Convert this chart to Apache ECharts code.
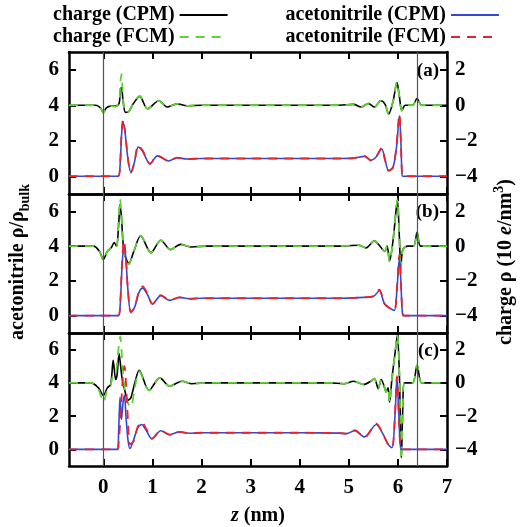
<!DOCTYPE html>
<html><head><meta charset="utf-8">
<script src="https://cdn.jsdelivr.net/npm/echarts@6/dist/echarts.min.js"></script>
<style>html,body{margin:0;padding:0;background:#fff}#c{width:520px;height:527px}</style>
</head><body><div id="c"></div>
<script>
const xTicks = [0, 1, 2, 3, 4, 5, 6, 7];
const leftTicks = [0, 2, 4, 6];
const rightTicks = [-4, -2, 0, 2];
const wallLines = [0, 6.4];
const panelLabels = ['(a)', '(b)', '(c)'];

// Panel (a)
const aAcnZ   = [-0.7, 0.30, 0.34, 0.37, 0.40, 0.44, 0.50, 0.56, 0.63, 0.71, 0.80, 0.95, 1.10, 1.22, 1.33, 1.50, 1.70, 2.00, 3.00, 4.00, 4.80, 5.10, 5.32, 5.45, 5.56, 5.67, 5.74, 5.81, 5.90, 5.97, 6.03, 6.06, 6.08, 6.10, 7.00];
const aAcnCPM = [0, 0, 0.6, 2.3, 3.1, 2.5, 1.0, 0.22, 0.75, 1.65, 1.4, 0.7, 1.15, 1.0, 0.86, 1.04, 0.97, 1.0, 1.0, 1.0, 1.0, 1.02, 1.12, 0.9, 1.1, 1.55, 0.9, 0.32, 0.5, 1.6, 3.4, 2.0, 0.3, 0, 0];
const aAcnFCM = [0, 0, 0.7, 2.4, 3.2, 2.6, 1.0, 0.2, 0.75, 1.74, 1.45, 0.7, 1.17, 1.0, 0.85, 1.05, 0.97, 1.0, 1.0, 1.0, 1.0, 1.02, 1.15, 0.88, 1.12, 1.6, 0.9, 0.3, 0.5, 1.7, 3.5, 2.0, 0.3, 0, 0];
const aChgZ   = [-0.7, -0.15, -0.06, 0.00, 0.06, 0.15, 0.25, 0.32, 0.35, 0.37, 0.40, 0.45, 0.52, 0.60, 0.74, 0.90, 1.13, 1.30, 1.50, 1.70, 2.00, 4.80, 5.10, 5.25, 5.40, 5.52, 5.65, 5.74, 5.81, 5.90, 5.98, 6.03, 6.08, 6.15, 6.30, 6.39, 6.48, 6.60, 7.00];
const aChgCPM = [0, 0, -0.15, -0.4, -0.15, -0.05, -0.05, 0.1, 0.9, 1.0, 0.3, -0.4, -0.35, 0.05, 0.5, -0.2, 0.25, -0.1, 0.08, -0.03, 0, 0, 0.05, -0.1, 0.1, -0.1, 0.25, 0.05, -0.5, 0.2, 1.28, 0.5, -0.3, 0, 0, 0.38, 0, 0, 0];
const aChgFCM = [0, 0, -0.15, -0.42, -0.15, -0.05, -0.08, 0.2, 1.4, 1.75, 0.4, -0.4, -0.35, 0.05, 0.53, -0.2, 0.25, -0.1, 0.08, -0.03, 0, 0, 0.05, -0.1, 0.1, -0.1, 0.25, 0.05, -0.5, 0.2, 1.3, 0.5, -0.3, 0, 0, 0.38, 0, 0, 0];

// Panel (b)
const bAcnZ   = [-0.7, 0.30, 0.34, 0.38, 0.42, 0.46, 0.50, 0.56, 0.64, 0.72, 0.80, 0.90, 1.00, 1.17, 1.35, 1.55, 1.75, 2.00, 3.00, 4.00, 4.80, 5.10, 5.30, 5.50, 5.62, 5.73, 5.85, 5.93, 5.98, 6.03, 6.06, 6.09, 6.12, 7.00];
const bAcnCPM = [0, 0, 0.5, 2.8, 4.1, 3.2, 1.5, 0.2, 0.5, 1.3, 1.58, 1.2, 0.67, 1.15, 0.88, 1.05, 0.97, 1.0, 1.0, 1.0, 1.0, 1.02, 1.05, 1.1, 1.43, 0.67, 0.4, 0.3, 1.5, 3.3, 2.0, 0.2, 0, 0];
const bAcnFCM = [0, 0, 0.6, 3.0, 4.3, 3.3, 1.5, 0.2, 0.5, 1.35, 1.68, 1.25, 0.67, 1.18, 0.88, 1.05, 0.97, 1.0, 1.0, 1.0, 1.0, 1.02, 1.05, 1.12, 1.5, 0.67, 0.4, 0.3, 1.6, 3.5, 2.0, 0.2, 0, 0];
const bChgZ   = [-0.7, -0.2, -0.08, 0.00, 0.08, 0.16, 0.22, 0.27, 0.31, 0.34, 0.37, 0.42, 0.52, 0.62, 0.76, 0.97, 1.17, 1.37, 1.57, 1.80, 2.10, 4.80, 5.20, 5.35, 5.52, 5.62, 5.73, 5.78, 5.83, 5.90, 5.96, 5.99, 6.03, 6.06, 6.10, 6.20, 6.32, 6.39, 6.46, 6.60, 7.00];
const bChgCPM = [0, 0, -0.3, -0.76, -0.3, -0.1, 0.2, 0.0, 1.2, 2.4, 1.6, -0.3, -1.0, -0.3, 0.6, -0.38, 0.34, -0.2, 0.1, -0.05, 0, 0, 0.05, -0.1, 0.3, 0.05, -0.3, 0.0, -0.86, 0.3, 2.0, 2.67, 0.5, -1.2, -0.2, 0, 0, 0.8, 0, 0, 0];
const bChgFCM = [0, 0, -0.3, -0.8, -0.3, -0.1, 0.1, 0.0, 1.5, 2.7, 1.8, -0.3, -1.05, -0.3, 0.6, -0.38, 0.34, -0.2, 0.1, -0.05, 0, 0, 0.05, -0.1, 0.3, 0.05, -0.3, 0.0, -0.9, 0.3, 2.1, 2.7, 0.5, -1.4, -0.2, 0, 0, 0.8, 0, 0, 0];

// Panel (c)
const cAcnZ   = [-0.7, 0.29, 0.31, 0.34, 0.37, 0.40, 0.43, 0.46, 0.50, 0.54, 0.62, 0.70, 0.78, 0.88, 0.99, 1.17, 1.35, 1.55, 1.75, 2.00, 3.00, 4.00, 4.80, 4.95, 5.12, 5.32, 5.56, 5.70, 5.80, 5.88, 5.94, 5.98, 6.02, 6.06, 6.10, 7.00];
const cAcnCPM = [0, 0, 1.0, 3.15, 1.8, 2.8, 3.25, 2.0, 0.6, 0.05, 0.6, 1.3, 1.5, 1.1, 0.64, 1.12, 0.88, 1.05, 0.97, 1.0, 1.0, 1.0, 0.98, 0.95, 1.12, 0.75, 1.5, 0.9, 0.3, 0.1, 2.0, 4.3, 2.0, 0, 0, 0];
const cAcnFCM = [0, 0, 0.3, 1.5, 3.0, 4.5, 5.0, 4.0, 1.8, 0.3, 0.5, 1.35, 1.65, 1.2, 0.64, 1.14, 0.88, 1.05, 0.97, 1.0, 1.0, 1.0, 0.98, 0.95, 1.15, 0.72, 1.55, 0.9, 0.3, 0.1, 2.1, 4.4, 2.0, 0, 0, 0];
const cChgZ   = [-0.7, -0.25, -0.10, 0.00, 0.08, 0.15, 0.20, 0.25, 0.28, 0.32, 0.345, 0.38, 0.44, 0.50, 0.56, 0.64, 0.73, 0.93, 1.15, 1.35, 1.60, 1.80, 2.10, 4.60, 4.90, 5.10, 5.30, 5.45, 5.52, 5.60, 5.66, 5.72, 5.76, 5.80, 5.83, 5.88, 5.95, 5.99, 6.03, 6.07, 6.10, 6.13, 6.30, 6.39, 6.48, 6.60, 7.00];
const cChgCPM = [0, 0, -0.3, -0.75, -0.3, -0.1, 1.36, 0.2, 0.5, 1.76, 1.2, 0.3, -0.5, -1.05, -0.9, 0.0, 0.76, -0.45, 0.3, -0.2, 0.1, -0.05, 0, 0, -0.05, 0.1, -0.1, 0.1, 0.26, -0.35, 0.2, -0.2, -0.54, -0.3, -1.15, 0.3, 2.0, 2.87, 0.5, -4.5, -1.5, 0, 0, 1.06, 0, 0, 0];
const cChgFCM = [0, 0, -0.4, -1.15, -0.4, -0.1, 0.5, 0.6, 1.2, 2.4, 2.8, 1.5, -0.5, -1.2, -1.45, -0.3, 0.7, -0.45, 0.3, -0.2, 0.1, -0.05, 0, 0, -0.05, 0.1, -0.1, 0.1, 0.26, -0.35, 0.2, -0.2, -0.54, -0.3, -1.2, 0.3, 2.0, 2.9, 0.5, -4.6, -1.5, 0, 0, 1.06, 0, 0, 0];

const panels = [
  {acnZ: aAcnZ, acnCPM: aAcnCPM, acnFCM: aAcnFCM, chgZ: aChgZ, chgCPM: aChgCPM, chgFCM: aChgFCM},
  {acnZ: bAcnZ, acnCPM: bAcnCPM, acnFCM: bAcnFCM, chgZ: bChgZ, chgCPM: bChgCPM, chgFCM: bChgFCM},
  {acnZ: cAcnZ, acnCPM: cAcnCPM, acnFCM: cAcnFCM, chgZ: cChgZ, chgCPM: cChgCPM, chgFCM: cChgFCM}
];

const FONT = 'Liberation Serif';
const BLACK = '#000000', GREEN = '#5fd236', BLUE = '#3548d8', RED = '#e8232b';
const gridBoxes = [{top: 52, height: 142}, {top: 194, height: 139}, {top: 333, height: 133}];
const labelStyle = {fontFamily: FONT, fontWeight: 'bold', fontSize: 21, color: '#000'};

function frameLine() { return {show: true, onZero: false, lineStyle: {color: '#000', width: 2.5}}; }
function tick(values) {
  return {show: true, inside: true, length: 7, customValues: values,
    lineStyle: {color: '#000', width: 2}};
}
function pts(z, v) { return z.map((x, i) => [x, v[i]]); }

const grid = [], xAxis = [], yAxis = [], series = [];
gridBoxes.forEach((g, i) => {
  grid.push({left: 69, right: 73, top: g.top, height: g.height, show: false});
  const last = i === 2;
  xAxis.push({type: 'value', gridIndex: i, min: -0.7, max: 7, position: 'bottom',
    axisLine: frameLine(), splitLine: {show: false}, axisTick: tick(xTicks),
    axisLabel: Object.assign({show: last, customValues: xTicks, margin: 11}, labelStyle),
    name: last ? '{i|z}{b| (nm)}' : '', nameLocation: 'middle', nameGap: 40,
    nameTextStyle: {rich: {
      i: {fontFamily: FONT, fontWeight: 'bold', fontStyle: 'italic', fontSize: 20, color: '#000'},
      b: {fontFamily: FONT, fontWeight: 'bold', fontSize: 20, color: '#000'}}}
  });
  xAxis.push({type: 'value', gridIndex: i, min: -0.7, max: 7, position: 'top',
    axisLine: frameLine(), splitLine: {show: false}, axisTick: tick(xTicks),
    axisLabel: {show: false, customValues: xTicks}});
  yAxis.push({type: 'value', gridIndex: i, min: -1, max: 7, position: 'left',
    axisLine: frameLine(), splitLine: {show: false}, axisTick: tick(leftTicks),
    axisLabel: Object.assign({customValues: leftTicks, margin: 10}, labelStyle)});
  yAxis.push({type: 'value', gridIndex: i, min: -5, max: 3, position: 'right',
    axisLine: frameLine(), splitLine: {show: false}, axisTick: tick(rightTicks),
    axisLabel: Object.assign({customValues: rightTicks, margin: 8,
      formatter: v => String(v).replace('-', '\u2212')}, labelStyle)});

  const p = panels[i];
  const common = {type: 'line', symbol: 'none', smooth: 0.3, xAxisIndex: 2 * i, animation: false};
  series.push(Object.assign({}, common, {name: 'charge (CPM)', yAxisIndex: 2 * i + 1,
    data: pts(p.chgZ, p.chgCPM), lineStyle: {color: BLACK, width: 1.6}, itemStyle: {color: BLACK},
    markLine: {silent: true, symbol: 'none', label: {show: false}, animation: false,
      lineStyle: {color: '#555', width: 1.2, type: 'solid'},
      data: wallLines.map(v => ({xAxis: v}))}}));
  series.push(Object.assign({}, common, {name: 'charge (FCM)', yAxisIndex: 2 * i + 1,
    data: pts(p.chgZ, p.chgFCM), lineStyle: {color: GREEN, width: 1.8, type: [9, 7]}, itemStyle: {color: GREEN}}));
  series.push(Object.assign({}, common, {name: 'acetonitrile (CPM)', yAxisIndex: 2 * i,
    data: pts(p.acnZ, p.acnCPM), lineStyle: {color: BLUE, width: 1.6}, itemStyle: {color: BLUE}}));
  series.push(Object.assign({}, common, {name: 'acetonitrile (FCM)', yAxisIndex: 2 * i,
    data: pts(p.acnZ, p.acnFCM), lineStyle: {color: RED, width: 1.8, type: [9, 7]}, itemStyle: {color: RED}}));
});

const legendCommon = {orient: 'vertical', top: 0, align: 'right', itemWidth: 48, itemHeight: 20,
  itemGap: 2, selectedMode: false, itemStyle: {opacity: 0},
  textStyle: {fontFamily: FONT, fontWeight: 'bold', fontSize: 20, color: '#000'}};

const graphic = [
  {type: 'text', x: 18, y: 262, rotation: Math.PI / 2, style: {
    text: '{a|acetonitrile ρ/ρ}{s|bulk}', align: 'center', verticalAlign: 'middle',
    rich: {a: {fontFamily: FONT, fontWeight: 'bold', fontSize: 20, lineHeight: 28, fill: '#000'},
           s: {fontFamily: FONT, fontWeight: 'bold', fontSize: 14, lineHeight: 14, verticalAlign: 'bottom', fill: '#000'}}}},
  {type: 'text', x: 506, y: 262, rotation: Math.PI / 2, style: {
    text: '{a|charge ρ (10 }{e|e}{a|/nm}{p|3}{a|)}', align: 'center', verticalAlign: 'middle',
    rich: {a: {fontFamily: FONT, fontWeight: 'bold', fontSize: 20, lineHeight: 28, fill: '#000'},
           e: {fontFamily: FONT, fontWeight: 'bold', fontStyle: 'italic', fontSize: 20, lineHeight: 28, fill: '#000'},
           p: {fontFamily: FONT, fontWeight: 'bold', fontSize: 14, lineHeight: 14, verticalAlign: 'top', fill: '#000'}}}}
];
gridBoxes.forEach((g, i) => {
  graphic.push({type: 'text', x: 439, y: g.top + g.height / 8 + 1, style: {
    text: panelLabels[i], align: 'right', verticalAlign: 'middle',
    font: 'bold 19px "Liberation Serif"', fill: '#000'}});
});

const chart = echarts.init(document.getElementById('c'), null, {renderer: 'canvas'});
chart.setOption({
  backgroundColor: '#fff',
  animation: false,
  legend: [
    Object.assign({}, legendCommon, {left: 48, data: ['charge (CPM)', 'charge (FCM)']}),
    Object.assign({}, legendCommon, {right: 15, data: ['acetonitrile (CPM)', 'acetonitrile (FCM)']})
  ],
  grid, xAxis, yAxis, series, graphic
});
</script></body></html>
